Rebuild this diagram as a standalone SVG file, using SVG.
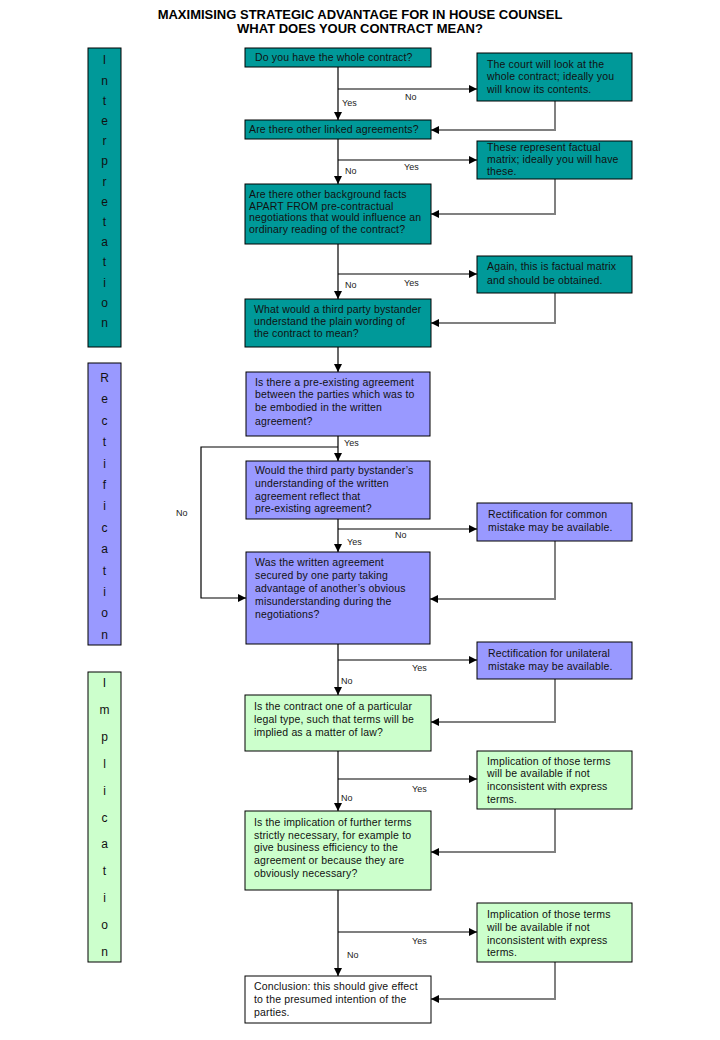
<svg xmlns="http://www.w3.org/2000/svg" width="720" height="1040" viewBox="0 0 720 1040">
<defs>
<marker id="ah" viewBox="0 0 10 10" refX="10" refY="5" markerWidth="8" markerHeight="8" markerUnits="userSpaceOnUse" orient="auto"><path d="M0,0 L10,5 L0,10 z" fill="#000"/></marker>
<style>
text{font-family:"Liberation Sans",Arial,sans-serif;fill:#111}
.title{font-size:13px;font-weight:bold;text-anchor:middle;fill:#000}
.t{font-size:10.5px;letter-spacing:0.15px}
.lbl{font-size:9px;fill:#222}
.side{font-size:12px;text-anchor:middle}
.teal{fill:#009999;stroke:#000;stroke-width:1}
.pur{fill:#9999FF;stroke:#000;stroke-width:1}
.grn{fill:#CCFFCC;stroke:#000;stroke-width:1}
.wht{fill:#FFFFFF;stroke:#000;stroke-width:1}
.c{fill:none;stroke:#000;stroke-width:1.2}
.r{fill:none;stroke:#808080;stroke-width:2}
</style>
</defs>
<rect width="720" height="1040" fill="#fff"/>
<text class="title" x="360" y="19">MAXIMISING STRATEGIC ADVANTAGE FOR IN HOUSE COUNSEL</text>
<text class="title" x="360" y="33">WHAT DOES YOUR CONTRACT MEAN?</text>

<g id="side-interpretation">
<rect class="teal" x="88" y="48" width="33" height="299"/>
<text class="side" x="104.5"><tspan x="104.5" y="64">I</tspan><tspan x="104.5" y="85">n</tspan><tspan x="104.5" y="105">t</tspan><tspan x="104.5" y="125">e</tspan><tspan x="104.5" y="145">r</tspan><tspan x="104.5" y="165">p</tspan><tspan x="104.5" y="186">r</tspan><tspan x="104.5" y="206">e</tspan><tspan x="104.5" y="226">t</tspan><tspan x="104.5" y="246">a</tspan><tspan x="104.5" y="266">t</tspan><tspan x="104.5" y="287">i</tspan><tspan x="104.5" y="307">o</tspan><tspan x="104.5" y="327">n</tspan></text>
</g>
<g id="side-rectification">
<rect class="pur" x="88" y="363" width="33" height="282"/>
<text class="side" x="104.5"><tspan x="104.5" y="382">R</tspan><tspan x="104.5" y="403">e</tspan><tspan x="104.5" y="425">c</tspan><tspan x="104.5" y="446">t</tspan><tspan x="104.5" y="468">i</tspan><tspan x="104.5" y="489">f</tspan><tspan x="104.5" y="510">i</tspan><tspan x="104.5" y="532">c</tspan><tspan x="104.5" y="553">a</tspan><tspan x="104.5" y="575">t</tspan><tspan x="104.5" y="596">i</tspan><tspan x="104.5" y="617">o</tspan><tspan x="104.5" y="639">n</tspan></text>
</g>
<g id="side-implication">
<rect class="grn" x="88" y="672" width="33" height="290"/>
<text class="side" x="104.5"><tspan x="104.5" y="687">I</tspan><tspan x="104.5" y="714">m</tspan><tspan x="104.5" y="741">p</tspan><tspan x="104.5" y="768">l</tspan><tspan x="104.5" y="795">i</tspan><tspan x="104.5" y="822">c</tspan><tspan x="104.5" y="848">a</tspan><tspan x="104.5" y="875">t</tspan><tspan x="104.5" y="902">i</tspan><tspan x="104.5" y="929">o</tspan><tspan x="104.5" y="956">n</tspan></text>
</g>

<g id="connectors">
<path class="c" d="M338,67 V120" marker-end="url(#ah)"/>
<path class="c" d="M338,89 H477" marker-end="url(#ah)"/>
<path class="r" d="M555,101 V130 H431" marker-end="url(#ah)"/>
<path class="c" d="M338,139 V184" marker-end="url(#ah)"/>
<path class="c" d="M338,160 H477" marker-end="url(#ah)"/>
<path class="r" d="M555,179 V214 H431" marker-end="url(#ah)"/>
<path class="c" d="M338,244 V299" marker-end="url(#ah)"/>
<path class="c" d="M338,274 H477" marker-end="url(#ah)"/>
<path class="r" d="M555,293 V323 H431" marker-end="url(#ah)"/>
<path class="c" d="M338,347 V372" marker-end="url(#ah)"/>
<path class="c" d="M338,436 V461" marker-end="url(#ah)"/>
<path class="c" d="M338,447 H201 V598 H246" marker-end="url(#ah)"/>
<path class="c" d="M338,519 V552" marker-end="url(#ah)"/>
<path class="c" d="M338,529 H477" marker-end="url(#ah)"/>
<path class="r" d="M555,541 V599 H430" marker-end="url(#ah)"/>
<path class="c" d="M338,644 V695" marker-end="url(#ah)"/>
<path class="c" d="M338,660 H477" marker-end="url(#ah)"/>
<path class="r" d="M555,679 V722 H431" marker-end="url(#ah)"/>
<path class="c" d="M338,751 V811" marker-end="url(#ah)"/>
<path class="c" d="M338,779 H477" marker-end="url(#ah)"/>
<path class="r" d="M555,809 V852 H431" marker-end="url(#ah)"/>
<path class="c" d="M338,890 V976" marker-end="url(#ah)"/>
<path class="c" d="M338,932 H477" marker-end="url(#ah)"/>
<path class="r" d="M555,962 V999 H431" marker-end="url(#ah)"/>
<text class="lbl" x="342" y="106">Yes</text>
<text class="lbl" x="405" y="100">No</text>
<text class="lbl" x="345" y="174">No</text>
<text class="lbl" x="404" y="170">Yes</text>
<text class="lbl" x="345" y="288">No</text>
<text class="lbl" x="404" y="286">Yes</text>
<text class="lbl" x="344" y="446">Yes</text>
<text class="lbl" x="176" y="516">No</text>
<text class="lbl" x="395" y="538">No</text>
<text class="lbl" x="347" y="545">Yes</text>
<text class="lbl" x="412" y="671">Yes</text>
<text class="lbl" x="341" y="684">No</text>
<text class="lbl" x="412" y="792">Yes</text>
<text class="lbl" x="341" y="801">No</text>
<text class="lbl" x="412" y="944">Yes</text>
<text class="lbl" x="347" y="958">No</text>
</g>

<g id="q1"><rect class="teal" x="245" y="48" width="186" height="19"/><text class="t" x="255" y="61">Do you have the whole contract?</text></g>
<g id="a1"><rect class="teal" x="477" y="53" width="155" height="48"/><text class="t"><tspan x="487" y="68">The court will look at the</tspan><tspan x="487" y="80">whole contract; ideally you</tspan><tspan x="487" y="93">will know its contents.</tspan></text></g>
<g id="q2"><rect class="teal" x="245" y="120" width="186" height="19"/><text class="t" x="249" y="133">Are there other linked agreements?</text></g>
<g id="a2"><rect class="teal" x="477" y="141" width="155" height="38"/><text class="t"><tspan x="487" y="151">These represent factual</tspan><tspan x="487" y="163">matrix; ideally you will have</tspan><tspan x="487" y="175">these.</tspan></text></g>
<g id="q3"><rect class="teal" x="245" y="184" width="186" height="60"/><text class="t"><tspan x="249" y="198">Are there other background facts</tspan><tspan x="249" y="210">APART FROM pre-contractual</tspan><tspan x="249" y="221">negotiations that would influence an</tspan><tspan x="249" y="233">ordinary reading of the contract?</tspan></text></g>
<g id="a3"><rect class="teal" x="477" y="256" width="155" height="37"/><text class="t"><tspan x="487" y="270">Again, this is factual matrix</tspan><tspan x="487" y="284">and should be obtained.</tspan></text></g>
<g id="q4"><rect class="teal" x="245" y="299" width="186" height="48"/><text class="t"><tspan x="254" y="313">What would a third party bystander</tspan><tspan x="254" y="325">understand the plain wording of</tspan><tspan x="254" y="337">the contract to mean?</tspan></text></g>

<g id="q5"><rect class="pur" x="246" y="372" width="184" height="64"/><text class="t"><tspan x="255" y="386">Is there a pre-existing agreement</tspan><tspan x="255" y="398">between the parties which was to</tspan><tspan x="255" y="411">be embodied in the written</tspan><tspan x="255" y="425">agreement?</tspan></text></g>
<g id="q6"><rect class="pur" x="246" y="461" width="184" height="58"/><text class="t"><tspan x="255" y="474">Would the third party bystander’s</tspan><tspan x="255" y="487">understanding of the written</tspan><tspan x="255" y="500">agreement reflect that</tspan><tspan x="255" y="512">pre-existing agreement?</tspan></text></g>
<g id="a4"><rect class="pur" x="477" y="503" width="155" height="38"/><text class="t"><tspan x="488" y="518">Rectification for common</tspan><tspan x="488" y="531">mistake may be available.</tspan></text></g>
<g id="q7"><rect class="pur" x="246" y="552" width="184" height="92"/><text class="t"><tspan x="255" y="566">Was the written agreement</tspan><tspan x="255" y="579">secured by one party taking</tspan><tspan x="255" y="592">advantage of another’s obvious</tspan><tspan x="255" y="605">misunderstanding during the</tspan><tspan x="255" y="618">negotiations?</tspan></text></g>
<g id="a5"><rect class="pur" x="477" y="642" width="155" height="37"/><text class="t"><tspan x="488" y="657">Rectification for unilateral</tspan><tspan x="488" y="670">mistake may be available.</tspan></text></g>

<g id="q8"><rect class="grn" x="245" y="695" width="186" height="56"/><text class="t"><tspan x="254" y="710">Is the contract one of a particular</tspan><tspan x="254" y="723">legal type, such that terms will be</tspan><tspan x="254" y="736">implied as a matter of law?</tspan></text></g>
<g id="a6"><rect class="grn" x="477" y="751" width="155" height="58"/><text class="t"><tspan x="487" y="765">Implication of those terms</tspan><tspan x="487" y="777">will be available if not</tspan><tspan x="487" y="790">inconsistent with express</tspan><tspan x="487" y="803">terms.</tspan></text></g>
<g id="q9"><rect class="grn" x="245" y="811" width="186" height="79"/><text class="t"><tspan x="254" y="826">Is the implication of further terms</tspan><tspan x="254" y="839">strictly necessary, for example to</tspan><tspan x="254" y="851">give business efficiency to the</tspan><tspan x="254" y="864">agreement or because they are</tspan><tspan x="254" y="877">obviously necessary?</tspan></text></g>
<g id="a7"><rect class="grn" x="477" y="903" width="155" height="59"/><text class="t"><tspan x="487" y="918">Implication of those terms</tspan><tspan x="487" y="931">will be available if not</tspan><tspan x="487" y="944">inconsistent with express</tspan><tspan x="487" y="956">terms.</tspan></text></g>
<g id="conclusion"><rect class="wht" x="245" y="976" width="186" height="47"/><text class="t"><tspan x="254" y="990">Conclusion: this should give effect</tspan><tspan x="254" y="1003">to the presumed intention of the</tspan><tspan x="254" y="1016">parties.</tspan></text></g>
</svg>
